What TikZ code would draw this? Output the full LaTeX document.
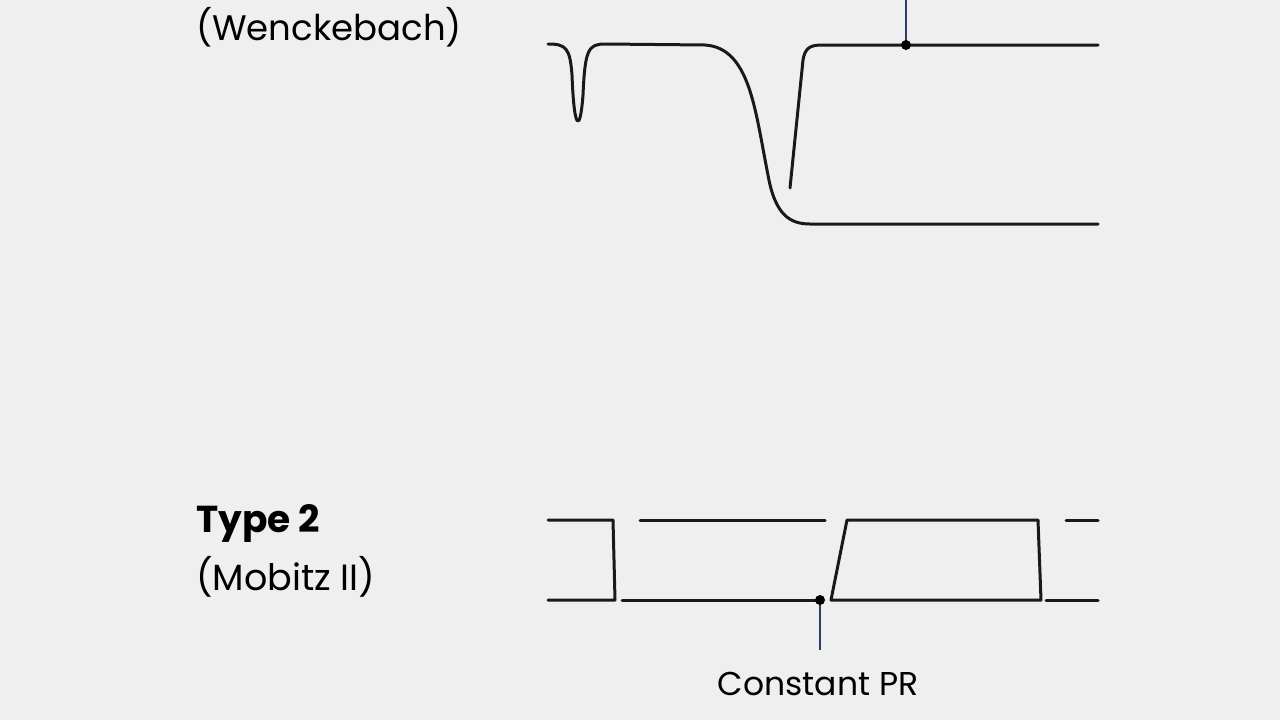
\documentclass[tikz,border=0pt]{standalone}
\usepackage{fontspec}
\setmainfont{Poppins}
\begin{document}
\begin{tikzpicture}[x=1pt,y=-1pt,
  wave/.style={line width=3pt,line join=round,line cap=round,black!90},
  tick/.style={line width=1.5pt,color={rgb,255:red,40;green,60;blue,100}},
  lbl/.style={anchor=west,inner sep=0pt,font=\fontsize{35.5}{38}\selectfont}]
\useasboundingbox[fill={rgb,255:red,239;green,239;blue,239}] (0,0) rectangle (1280,720);
\node[lbl] (wen) at (196,27) {(Wenckebach)};
\node[lbl,font=\fontsize{37.5}{40}\selectfont\bfseries] (t2) at (196,523) {Type 2};
\node[lbl,font=\fontsize{36.5}{40}\selectfont] (mob) at (196,577) {(Mobitz II)};
\node[inner sep=0pt,font=\fontsize{33}{36}\selectfont] (cpr) at (818,684) {Constant PR};
% top waveform
\draw[wave] (548,44) .. controls (566,44) and (570,48) .. (572,75) .. controls (574,130) and (580,135) .. (583,95)
  .. controls (585,50) and (588,44) .. (605,44) -- (705,45) .. controls (750,48) and (755,110) .. (768,175)
  .. controls (775,215) and (790,224) .. (810,224) -- (1098,224);
\draw[wave] (790,188) -- (803,60) .. controls (805,48) and (810,45) .. (822,45) -- (1098,45);
\coordinate (d1) at (906,45);
\coordinate (t1) at (906,0);
\draw[tick] (t1) -- (d1);
\fill (d1) circle (5);
% bottom waveform
\draw[wave] (548,520) -- (613,520) -- (615,600) -- (548,600);
\draw[wave] (640,520) -- (825,520);
\draw[wave] (622,600) -- (818,600);
\draw[wave] (831,600) -- (847,520) -- (1038,520) -- (1041,600) -- cycle;
\draw[wave] (1046,600) -- (1098,600);
\draw[wave] (1066,520) -- (1098,520);
\coordinate (d2) at (820,600);
\coordinate (b2) at (820,650);
\draw[tick] (d2) -- (b2);
\fill (d2) circle (5);
\end{tikzpicture}
\end{document}
